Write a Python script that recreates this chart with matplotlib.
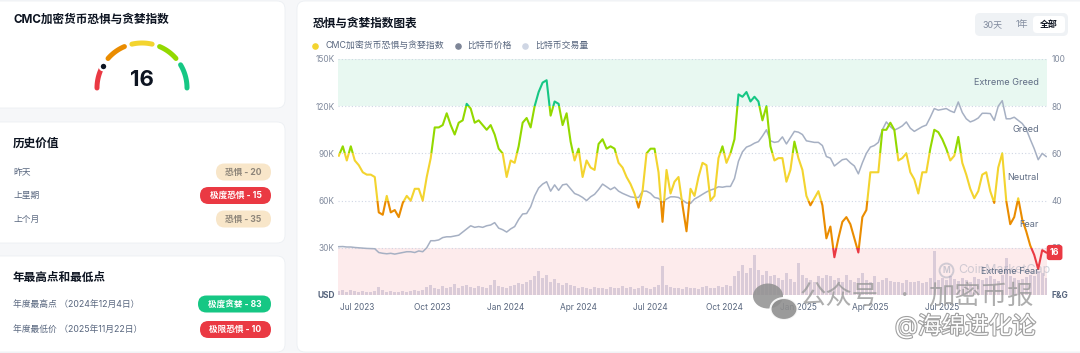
import numpy as np
import pandas as pd
import matplotlib
matplotlib.use("Agg")
import matplotlib.pyplot as plt
import matplotlib.transforms as mtransforms
import matplotlib.patheffects as pe
from matplotlib.patches import FancyBboxPatch, Rectangle, Ellipse

plt.rcParams['font.family'] = ['Inter', 'Noto Sans CJK SC', 'DejaVu Sans']

# ---------------- data (one value every 5 days) ----------------
start_date = '2023-06-29'

fg_index = [
    59, 63, 57, 63, 57, 55, 52, 51, 51, 50,
    35, 34, 42, 35, 36, 33, 39, 42, 40, 45,
    45, 40, 50, 58, 71, 71, 72, 77, 72, 68,
    73, 74, 81, 79, 73, 74, 72, 70, 72, 68,
    62, 60, 50, 57, 56, 63, 73, 75, 71, 80,
    86, 90, 91, 76, 82, 81, 72, 77, 65, 57,
    62, 50, 57, 54, 53, 64, 66, 62, 63, 62,
    56, 54, 50, 47, 43, 37, 44, 60, 62, 62,
    52, 31, 53, 43, 48, 50, 38, 27, 45, 42,
    50, 56, 55, 40, 42, 58, 63, 56, 60, 66,
    85, 84, 86, 82, 84, 82, 74, 80, 63, 57,
    58, 58, 48, 53, 65, 58, 53, 42, 38, 41,
    44, 38, 24, 29, 16, 24, 31, 33, 30, 24,
    18, 33, 36, 52, 52, 52, 70, 70, 73, 70,
    57, 58, 60, 52, 49, 43, 52, 52, 62, 70,
    69, 66, 62, 57, 59, 67, 56, 51, 45, 41,
    44, 51, 52, 44, 39, 54, 60, 40, 30, 33,
    41, 32, 27, 21, 17, 11, 19, 18,
]

btc_price_k = [
    30.7, 30.8, 30.5, 30.5, 30.2, 30, 29.8, 29.6, 29.5, 29.4,
    27, 26.5, 26.2, 26.5, 26, 26.5, 27, 27.5, 27.5, 27,
    28, 27.5, 30, 34.5, 34.5, 35, 36.5, 37, 37, 37.5,
    38, 40, 42, 44, 43, 43.5, 43, 44, 44.5, 46,
    42.5, 41.5, 40, 42, 43.5, 48, 51.5, 51.8, 56, 63,
    68, 70.5, 72, 66, 70, 66.5, 70, 70.5, 67.5, 64.5,
    63.5, 62, 60, 62.4, 64, 67, 70.5, 68.8, 67, 68.5,
    66, 64.6, 63.5, 62.4, 62, 62, 66, 66, 64.6, 62,
    61.4, 59, 61, 62.4, 62.4, 62, 60.3, 58.5, 58.2, 61,
    62.4, 64, 65.5, 66.7, 67.5, 68.8, 68.5, 69, 69, 74,
    85, 91, 94, 95, 96.5, 97.5, 101, 105, 98, 97,
    97.5, 100.5, 96, 100, 104, 103.5, 102, 98, 97.5, 97,
    97, 95, 88, 87, 82, 84, 86, 86.5, 84, 82,
    77, 84, 90, 94, 95, 97, 105, 110, 107, 104.8,
    106, 107.5, 110, 106, 104, 105.5, 107, 108, 113, 118.5,
    117.5, 118, 118.5, 117, 116, 122.7, 116, 112, 110, 111,
    112.5, 115.5, 115.5, 115.3, 111, 120, 123.5, 112, 112, 113,
    111, 109, 105.5, 99, 93, 86, 90, 88,
]

btc_volume_b = [
    12, 15, 10, 14, 11, 9, 13, 10, 8, 11,
    25, 14, 9, 12, 8, 10, 13, 9, 11, 14,
    12, 15, 25, 30, 22, 18, 28, 20, 24, 32,
    22, 26, 30, 24, 20, 28, 25, 22, 30, 45,
    28, 24, 22, 26, 30, 35, 32, 38, 45, 55,
    70, 50, 60, 40, 48, 35, 30, 35, 30, 28,
    22, 25, 20, 18, 24, 20, 22, 18, 25, 20,
    22, 28, 20, 24, 18, 22, 26, 20, 18, 24,
    30, 85, 30, 24, 20, 22, 18, 25, 20, 22,
    18, 24, 28, 22, 20, 26, 24, 30, 28, 55,
    70, 90, 65, 80, 120, 75, 60, 70, 55, 60,
    50, 45, 65, 48, 40, 95, 60, 50, 45, 40,
    55, 50, 60, 55, 45, 50, 40, 60, 45, 40,
    50, 65, 45, 40, 55, 40, 45, 50, 42, 38,
    40, 35, 45, 40, 38, 42, 35, 40, 50, 130,
    45, 50, 45, 55, 48, 42, 50, 45, 40, 52,
    48, 45, 50, 55, 48, 42, 60, 110, 55, 50,
    45, 48, 52, 60, 55, 70, 65, 50,
]

current_value = 16

history_labels = ['昨天', '上星期', '上个月']
history_badges = ['恐惧 - 20', '极度恐惧 - 15', '恐惧 - 35']
history_values = [20, 15, 35]

year_labels = ['年度最高点 （2024年12月4日）', '年度最低价 （2025年11月22日）']
year_badges = ['极度贪婪 - 83', '极限恐惧 - 10']
year_values = [83, 10]

price_ticks = [0, 30, 60, 90, 120, 150]
price_tick_labels = ['USD', '30K', '60K', '90K', '120K', '150K']
fg_ticks = [0, 20, 40, 60, 80, 100]
fg_tick_labels = ['F&G', '20', '40', '60', '80', '100']
zone_names = ['Extreme Fear', 'Fear', 'Neutral', 'Greed', 'Extreme Greed']

month_ticks = ['2023-07-01', '2023-10-01', '2024-01-01', '2024-04-01', '2024-07-01',
               '2024-10-01', '2025-01-01', '2025-04-01', '2025-07-01']
month_labels = ['Jul 2023', 'Oct 2023', 'Jan 2024', 'Apr 2024', 'Jul 2024',
                'Oct 2024', 'Jan 2025', 'Apr 2025', 'Jul 2025']

legend_names = ['CMC加密货币恐惧与贪婪指数', '比特币价格', '比特币交易量']
range_buttons = ['30天', '1年', '全部']

# ---------------- styles ----------------
zone_colors = ['#ea3943', '#ea8c00', '#f3d42f', '#93d900', '#16c784']
DARK = '#0d1421'
GREY = '#58667e'
LIGHT = '#808a9d'

W, H = 1080, 353
fig = plt.figure(figsize=(W / 100, H / 100), dpi=100)
fig.patch.set_facecolor('#f6f7f9')

# pixel-space background layer for the cards
bg = fig.add_axes([0, 0, 1, 1], zorder=0)
bg.set_xlim(0, W)
bg.set_ylim(H, 0)
bg.axis('off')


def card(x, y, w, h):
    bg.add_patch(FancyBboxPatch((x, y), w, h, boxstyle='round,pad=0,rounding_size=8',
                                fc='white', ec='#eceff3', lw=0.6))


def badge(value, text, x_right, yc, w):
    if value < 20:
        fc, tc = '#ea3943', 'white'
    elif value < 40:
        fc, tc = '#f8e6c9', '#8d8579'
    else:
        fc, tc = '#16c784', 'white'
    h = 17
    bg.add_patch(FancyBboxPatch((x_right - w, yc - h / 2), w, h,
                                boxstyle='round,pad=0,rounding_size=8.5', fc=fc, ec='none'))
    bg.text(x_right - w / 2, yc, text, ha='center', va='center', fontsize=6.2,
            fontweight='bold', color=tc)


card(-10, 1, 295, 107)
card(-10, 122, 295, 121)
card(-10, 256, 295, 96)
card(297, 1, 800, 351)

# card 1: gauge
bg.text(13, 20, 'CMC加密货币恐惧与贪婪指数', fontsize=8.4, fontweight='bold', color=DARK, va='center')
cx, cy, r = 142, 88, 45
for i, c in enumerate(zone_colors):
    a0 = 180 - 36 * i - (0 if i == 0 else 5)
    a1 = 180 - 36 * (i + 1) + (0 if i == 4 else 5)
    a = np.radians(np.linspace(a0, a1, 40))
    bg.plot(cx + r * np.cos(a), cy - r * np.sin(a), color=c, lw=3.6, solid_capstyle='round')
ang = np.radians(180 - current_value * 1.8)
bg.scatter([cx + r * np.cos(ang)], [cy - r * np.sin(ang)], s=30, color=DARK,
           edgecolor='white', linewidth=1.6, zorder=5)
bg.text(cx, 80, str(current_value), ha='center', va='center', fontsize=16,
        fontweight='bold', color=DARK)

# card 2: history
bg.text(13, 144, '历史价值', fontsize=8.4, fontweight='bold', color=DARK, va='center')
hist_w = [55, 71, 55]
for i, (lab, txt, v) in enumerate(zip(history_labels, history_badges, history_values)):
    yc = 172 + 23.5 * i
    bg.text(13, yc, lab, fontsize=6.3, color=GREY, va='center')
    badge(v, txt, 271, yc, hist_w[i])

# card 3: yearly high / low
bg.text(13, 278, '年最高点和最低点', fontsize=8.4, fontweight='bold', color=DARK, va='center')
year_w = [73, 71]
for i, (lab, txt, v) in enumerate(zip(year_labels, year_badges, year_values)):
    yc = 304 + 25.5 * i
    bg.text(13, yc, lab, fontsize=6.3, color=GREY, va='center')
    badge(v, txt, 271, yc, year_w[i])

# right card header
bg.text(313, 24, '恐惧与贪婪指数图表', fontsize=8.4, fontweight='bold', color=DARK, va='center')
legend_colors = ['#f3d42f', '#7d8597', '#cfd6e4']
legend_x = [315, 458, 525]
legend_tx = [325, 467, 535]
for c, xd, xt, name in zip(legend_colors, legend_x, legend_tx, legend_names):
    bg.scatter([xd], [45.5], s=14, color=c, zorder=3)
    bg.text(xt, 45.5, name, fontsize=6.4, color=GREY, va='center')

bg.add_patch(FancyBboxPatch((975, 13), 93, 23, boxstyle='round,pad=0,rounding_size=5',
                            fc='#eff2f5', ec='none'))
bg.add_patch(FancyBboxPatch((1033, 16), 32, 17, boxstyle='round,pad=0,rounding_size=4',
                            fc='white', ec='none'))
for name, xc in zip(range_buttons, [992, 1022, 1049]):
    sel = name == '全部'
    bg.text(xc, 24.5, name, ha='center', va='center', fontsize=6.4,
            fontweight='bold' if sel else 'normal', color=DARK if sel else LIGHT)

# ---------------- chart ----------------
dates = pd.date_range(start_date, periods=len(fg_index), freq='5D')

ax = fig.add_axes([338 / W, 1 - 295 / H, (1047 - 338) / W, (295 - 59) / H], zorder=1)
ax.patch.set_visible(False)
ax.set_xlim(dates[0] - pd.Timedelta(days=1), dates[-1] + pd.Timedelta(days=1))
ax.set_ylim(0, 150)
ax.axhspan(120, 150, color='#e8f8f1', lw=0, zorder=0)
ax.axhspan(0, 30, color='#fdebec', lw=0, zorder=0)
for t in price_ticks:
    ax.axhline(t, color='#cfd6e4', lw=0.8, ls=(0, (1, 2)), zorder=1)
ax.set_yticks(price_ticks, price_tick_labels)
ax.tick_params(axis='y', length=0, pad=2.5, labelsize=6, labelcolor=LIGHT)
ax.set_xticks(pd.to_datetime(month_ticks), month_labels)
ax.tick_params(axis='x', length=0, pad=6, labelsize=6, labelcolor=GREY)
for lab in ax.get_xticklabels():
    lab.set_ha('left')
ax.get_yticklabels()[0].set_fontweight('bold')
ax.get_yticklabels()[0].set_color(GREY)

ax_vol = ax.twinx()
ax_vol.bar(dates, btc_volume_b, width=3.6, color='#c4b7cc', alpha=0.6, lw=0)
ax_vol.set_ylim(0, 700)
ax_vol.set_yticks([])

ax_p = ax.twinx()
ax_p.plot(dates, btc_price_k, color='#a6b0c3', lw=1.1)
ax_p.set_ylim(0, 150)
ax_p.set_yticks([])

ax_fg = ax.twinx()
ax_fg.set_ylim(0, 100)
ax_fg.set_yticks(fg_ticks, fg_tick_labels)
ax_fg.tick_params(axis='y', length=0, pad=3, labelsize=6, labelcolor=LIGHT)
ax_fg.get_yticklabels()[0].set_fontweight('bold')
ax_fg.get_yticklabels()[0].set_color(GREY)
ax.yaxis.tick_left()

trans = mtransforms.blended_transform_factory(ax_fg.transAxes, ax_fg.transData)
ax_fg.text(0.8745, 10.5, 'CoinMarketCap', transform=trans, fontsize=9, color='#9aa3b5',
           alpha=0.45, va='center', zorder=1)
ax_fg.plot([0.858], [10.5], transform=trans, marker='o', ms=10, mfc='none', mec='#9aa3b5',
           mew=1.4, alpha=0.45, zorder=1)
ax_fg.text(0.858, 10.5, 'M', transform=trans, fontsize=6, color='#9aa3b5', alpha=0.5,
           ha='center', va='center', fontweight='bold', zorder=1)

for i, c in enumerate(zone_colors):
    line, = ax_fg.plot(dates, fg_index, color=c, lw=1.5, solid_joinstyle='round', zorder=3)
    line.set_clip_path(Rectangle((0, 20 * i), 1, 20, transform=trans))

for i, name in enumerate(zone_names):
    ax_fg.text(0.9887, 20 * i + 10, name, transform=trans, ha='right', va='center',
               fontsize=6.6, color='#616e85', zorder=4)

ax_fg.text(1.004, fg_index[-1], str(current_value), transform=trans, ha='left', va='center',
           fontsize=6.4, fontweight='bold', color='white', clip_on=False, zorder=6,
           bbox=dict(boxstyle='round,pad=0.35,rounding_size=0.3', fc='#ea3943', ec='none'))

for a in (ax, ax_vol, ax_p, ax_fg):
    for s in a.spines.values():
        s.set_visible(False)

# ---------------- share watermark on top ----------------
top = fig.add_axes([0, 0, 1, 1], zorder=5)
top.set_xlim(0, W)
top.set_ylim(H, 0)
top.axis('off')
top.patch.set_visible(False)
top.add_patch(Ellipse((768, 296), 30, 25, fc='#8f8f8f', ec='none', alpha=0.85))
top.add_patch(Ellipse((784, 309), 27, 22, fc='#8f8f8f', ec='white', lw=1.5, alpha=0.9))
top.text(800, 297, '公众号', fontsize=19, color='#9a9a9a', alpha=0.8, va='center')
top.text(905, 297, '·', fontsize=19, color='#9a9a9a', alpha=0.8, va='center', ha='center')
top.text(928, 297, '加密币报', fontsize=19, color='#9a9a9a', alpha=0.8, va='center')
top.text(895, 326, '@海绵进化论', fontsize=17, color='white', va='center',
         path_effects=[pe.withStroke(linewidth=1.6, foreground='#a0a0a0')])

fig.savefig('out.png', dpi=100, facecolor=fig.get_facecolor())
